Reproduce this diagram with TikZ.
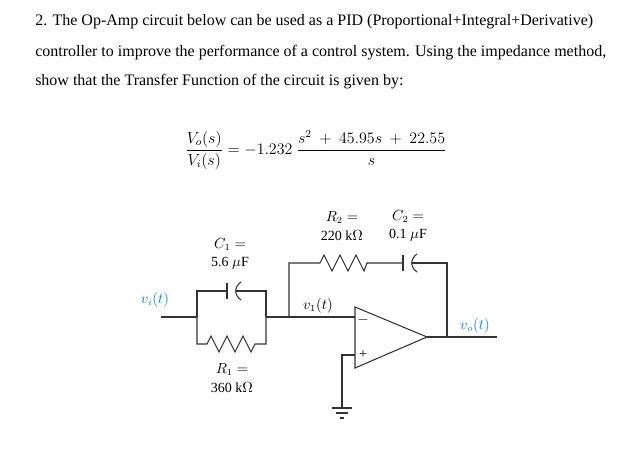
\documentclass[tikz,border=0pt]{standalone}
\usepackage{amsmath}
\usepackage{fontspec}
\setmainfont{Liberation Serif}
\begin{document}
\begin{tikzpicture}[x=0.75pt,y=-0.75pt,
  w/.style={line width=0.8pt,draw=black!80},
  lbl/.style={font=\fontsize{10.5}{12}\selectfont,align=center,inner sep=0},
  blue lbl/.style={lbl,text=cyan!60!blue},
  txt/.style={font=\fontsize{12}{14}\selectfont,anchor=west,inner sep=0}]
\useasboundingbox (0,0) rectangle (644,456);
\node[txt] (t1) at (35,22) {2. The Op-Amp circuit below can be used as a PID (Proportional+Integral+Derivative)};
\node[txt] (t2) at (35,53) {controller to improve the performance of a control system. Using the impedance method,};
\node[txt] (t3) at (35,82) {show that the Transfer Function of the circuit is given by:};
\node[inner sep=0,font=\fontsize{12}{14}\selectfont] (eq) at (316,150)
 {$\dfrac{V_o(s)}{V_i(s)} = -1.232\ \dfrac{s^2\ +\ 45.95s\ +\ 22.55}{s}$};
% coordinates
\coordinate (in) at (161,317);
\coordinate (pl) at (197,317);
\coordinate (pr) at (266,317);
\coordinate (j) at (289,317);
\coordinate (oa1) at (355,307);
\coordinate (oa2) at (355,368);
\coordinate (tip) at (427,337);
\coordinate (oj) at (447,337);
\coordinate (out) at (497,337);
% input and parallel block
\draw[w] (in) -- (pl) (pl) |- (227,291) (236,291) -| (pr);
\draw[w] (227,283) -- (227,299);
\draw[w] (241,282) .. controls (234,287) and (234,295) .. (241,300);
\draw[w] (pl) |- (207,344) -- (211,336) -- (219,352) -- (227,336) -- (235,352) -- (243,336) -- (251,352) -- (255,344) -| (pr);
\draw[w] (pr) -- (355,317);
% feedback
\draw[w] (j) |- (320,263) -- (324,255) -- (332,271) -- (340,255) -- (348,271) -- (356,255) -- (364,271) -- (367,263) -- (403,263);
\draw[w] (403,255) -- (403,271);
\draw[w] (417,254) .. controls (410,259) and (410,267) .. (417,272);
\draw[w] (412,263) -| (oj);
\draw[w] (oj) -- (out);
% opamp
\draw[w] (oa1) -- (tip) -- (oa2) -- cycle;
\draw[w] (tip) -- (oj);
\draw[w] (355,355) -| (342,408);
\draw[w] (332,408) -- (352,408) (336,413) -- (348,413) (340,418) -- (344,418);
\node[lbl] (minus) at (363,320) {$-$};
\node[lbl] (plus) at (363,355) {+};
% labels
\node[blue lbl] (vi) at (155,300) {$v_i(t)$};
\node[lbl] (v1) at (318,306) {$v_1(t)$};
\node[blue lbl] (vo) at (475,326) {$v_o(t)$};
\node[lbl] (c1) at (230,254) {$C_1 =$\\[2pt]5.6 $\mu$F};
\node[lbl] (r2) at (342,226) {$R_2 =$\\[2pt]220 k$\Omega$};
\node[lbl] (c2) at (408,226) {$C_2 =$\\[2pt]0.1 $\mu$F};
\node[lbl] (r1) at (232,378) {$R_1 =$\\[2pt]360 k$\Omega$};
\end{tikzpicture}
\end{document}
